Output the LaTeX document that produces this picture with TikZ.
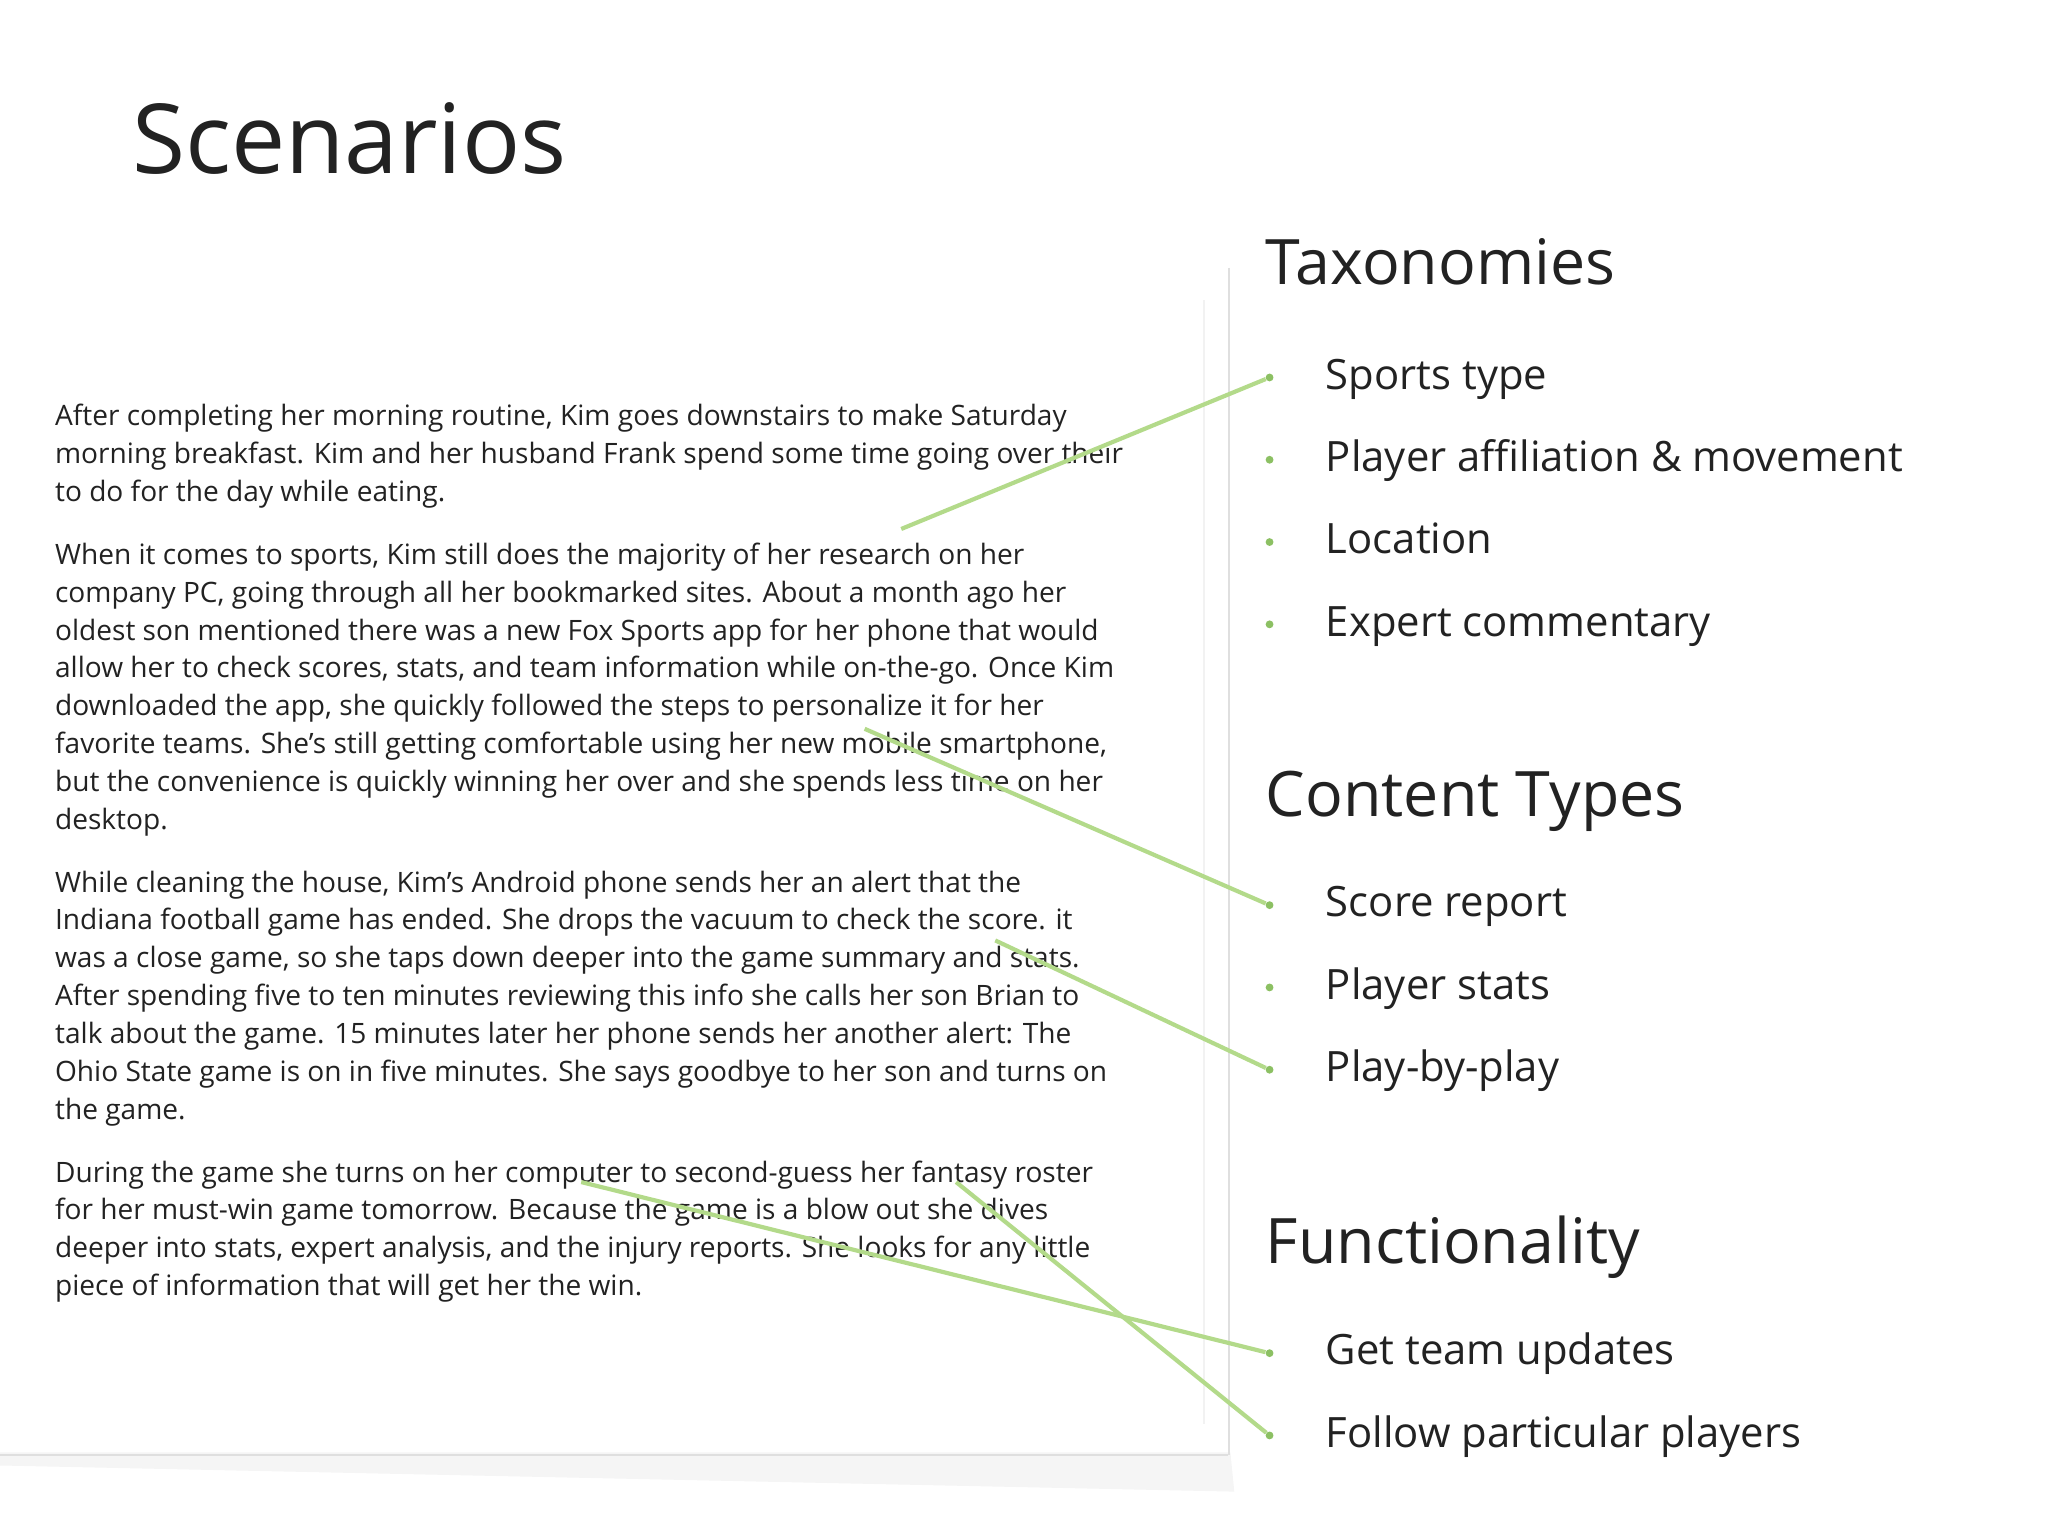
\documentclass[tikz,border=0pt]{standalone}
\usepackage{fontspec}
\setmainfont{Open Sans}
\definecolor{lg}{HTML}{B3DA8A}
\definecolor{bul}{HTML}{8CC063}
\definecolor{txt}{HTML}{222222}
\tikzset{
 body/.style={anchor=base west,inner sep=0,font=\fontsize{21.5}{29}\selectfont,text=txt},
 head/.style={anchor=base west,inner sep=0,font=\fontsize{48}{56}\selectfont,text=txt},
 item/.style={anchor=base west,inner sep=0,font=\fontsize{32}{40}\selectfont,text=txt},
 dot/.style={circle,fill=bul,inner sep=0,minimum size=6pt},
 link/.style={lg,line width=3.2pt},
}
\begin{document}
\begin{tikzpicture}[x=1pt,y=-1pt]
\useasboundingbox (0,0) rectangle (1568,1176);
% paper
\fill[gray!8] (0,1112) -- (942,1112) -- (945,1142) -- (0,1122) -- cycle;
\draw[gray!25,line width=2pt] (0,1114) -- (940,1114);
\draw[gray!25,line width=2pt] (941,205) -- (941,1114);
\draw[gray!10,line width=1.5pt] (922,230) -- (922,1090);
\node[anchor=base west,inner sep=0,font=\fontsize{74}{80}\selectfont,text=txt] (title) at (101,133) {Scenarios};
% body
\node[body] (l1) at (42,326) {After completing her morning routine, Kim goes downstairs to make Saturday};
\node[body] (l2) at (42,355) {morning breakfast. Kim and her husband Frank spend some time going over their};
\node[body] (l3) at (42,384) {to do for the day while eating.};
\node[body] (l4) at (42,432) {When it comes to sports, Kim still does the majority of her research on her};
\node[body] (l5) at (42,461) {company PC, going through all her bookmarked sites. About a month ago her};
\node[body] (l6) at (42,490) {oldest son mentioned there was a new Fox Sports app for her phone that would};
\node[body] (l7) at (42,519) {allow her to check scores, stats, and team information while on-the-go. Once Kim};
\node[body] (l8) at (42,548) {downloaded the app, she quickly followed the steps to personalize it for her};
\node[body] (l9) at (42,577) {favorite teams. She’s still getting comfortable using her new mobile smartphone,};
\node[body] (l10) at (42,606) {but the convenience is quickly winning her over and she spends less time on her};
\node[body] (l11) at (42,635) {desktop.};
\node[body] (l12) at (42,683) {While cleaning the house, Kim’s Android phone sends her an alert that the};
\node[body] (l13) at (42,712) {Indiana football game has ended. She drops the vacuum to check the score. it};
\node[body] (l14) at (42,741) {was a close game, so she taps down deeper into the game summary and stats.};
\node[body] (l15) at (42,770) {After spending five to ten minutes reviewing this info she calls her son Brian to};
\node[body] (l16) at (42,799) {talk about the game. 15 minutes later her phone sends her another alert: The};
\node[body] (l17) at (42,828) {Ohio State game is on in five minutes. She says goodbye to her son and turns on};
\node[body] (l18) at (42,857) {the game.};
\node[body] (l19) at (42,905) {During the game she turns on her computer to second-guess her fantasy roster};
\node[body] (l20) at (42,934) {for her must-win game tomorrow. Because the game is a blow out she dives};
\node[body] (l21) at (42,963) {deeper into stats, expert analysis, and the injury reports. She looks for any little};
\node[body] (l22) at (42,992) {piece of information that will get her the win.};
% right
\node[head] (h1) at (969,218) {Taxonomies};
\node[head] (h2) at (969,625) {Content Types};
\node[head] (h3) at (969,967) {Functionality};
\foreach \n/\y/\t in {a/298/Sports type,b/361/Player affiliation \& movement,c/424/Location,d/487/Expert commentary,e/702/Score report,f/765/Player stats,g/828/Play-by-play,h/1045/Get team updates,i/1108/Follow particular players}{
 \node[dot] (d\n) at (972,\y-9) {};
 \node[item] (t\n) at (1015,\y) {\t};
}
% links
\coordinate (s1) at (690,405);
\coordinate (s2) at (662,558);
\coordinate (s3) at (762,720);
\coordinate (s4) at (445,905);
\coordinate (s5) at (732,905);
\draw[link] (s1) -- (da);
\draw[link] (s2) -- (de);
\draw[link] (s3) -- (dg);
\draw[link] (s4) -- (dh);
\draw[link] (s5) -- (di);
\end{tikzpicture}
\end{document}
